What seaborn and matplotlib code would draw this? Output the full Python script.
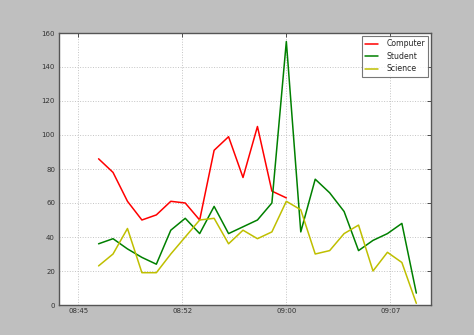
import matplotlib
matplotlib.use("Agg")
import matplotlib.pyplot as plt
import matplotlib.dates as mdates
import seaborn as sns
import pandas as pd

# ---- data ----
times = pd.date_range("2015-01-01 08:47", "2015-01-01 09:09", freq="1min")
computer = [86, 78, 61, 50, 53, 61, 60, 50, 91, 99, 75, 105, 67, 63]
student = [36, 39, 33, 28, 24, 44, 51, 42, 58, 42, 46, 50, 60, 155,
           43, 74, 66, 55, 32, 38, 42, 48, 7]
science = [23, 30, 45, 19, 19, 30, 40, 50, 51, 36, 44, 39, 43, 61,
           56, 30, 32, 42, 47, 20, 31, 25, 1]
series_names = ["Computer", "Student", "Science"]
tick_times = ["2015-01-01 08:45:36", "2015-01-01 08:52:48",
              "2015-01-01 09:00:00", "2015-01-01 09:07:12"]
y_ticks = [0, 20, 40, 60, 80, 100, 120, 140, 160]

frames = []
for name, vals in zip(series_names, [computer, student, science]):
    frames.append(pd.DataFrame({"time": times[:len(vals)], "value": vals,
                                "series": name}))
df = pd.concat(frames, ignore_index=True)

palette = {"Computer": "#ff0000", "Student": "#008000", "Science": "#bfbf00"}

sns.set_style("white")
fig = plt.figure(figsize=(4.74, 3.35), dpi=100, facecolor="#bfbfbf")
ax = fig.add_axes([58.5 / 474, 1 - 305 / 335, (431 - 58.5) / 474, (305 - 33) / 335])
ax.set_facecolor("white")

sns.lineplot(data=df, x="time", y="value", hue="series", hue_order=series_names,
             palette=palette, linewidth=1.1, ax=ax, estimator=None, sort=False)

ax.set_xlim(pd.Timestamp("2015-01-01 08:44:13.5"), pd.Timestamp("2015-01-01 09:10:01"))
ax.set_ylim(0, 160)
ax.xaxis.set_major_locator(matplotlib.ticker.FixedLocator(
    [mdates.date2num(pd.Timestamp(t)) for t in tick_times]))
ax.xaxis.set_major_formatter(mdates.DateFormatter("%H:%M"))
ax.set_yticks(y_ticks)
ax.set_xlabel("")
ax.set_ylabel("")

ax.grid(True, color="#c4c4c4", linestyle=":", linewidth=0.7)
ax.tick_params(direction="in", length=3, width=0.6, colors="#333333",
               labelsize=5, top=True, right=True, pad=2.5)
for sp in ax.spines.values():
    sp.set_color("#555555")
    sp.set_linewidth(1.0)

handles, labels = ax.get_legend_handles_labels()
leg = ax.legend(handles, labels, loc="upper right", fontsize=5.6,
                frameon=True, fancybox=False, handlelength=1.7,
                borderaxespad=0.35, labelspacing=0.45, borderpad=0.45,
                handletextpad=1.0)
leg.get_frame().set_edgecolor("#555555")
leg.get_frame().set_linewidth(0.8)
for line in leg.get_lines():
    line.set_linewidth(1.1)

fig.savefig("out.png", dpi=100, facecolor=fig.get_facecolor())
